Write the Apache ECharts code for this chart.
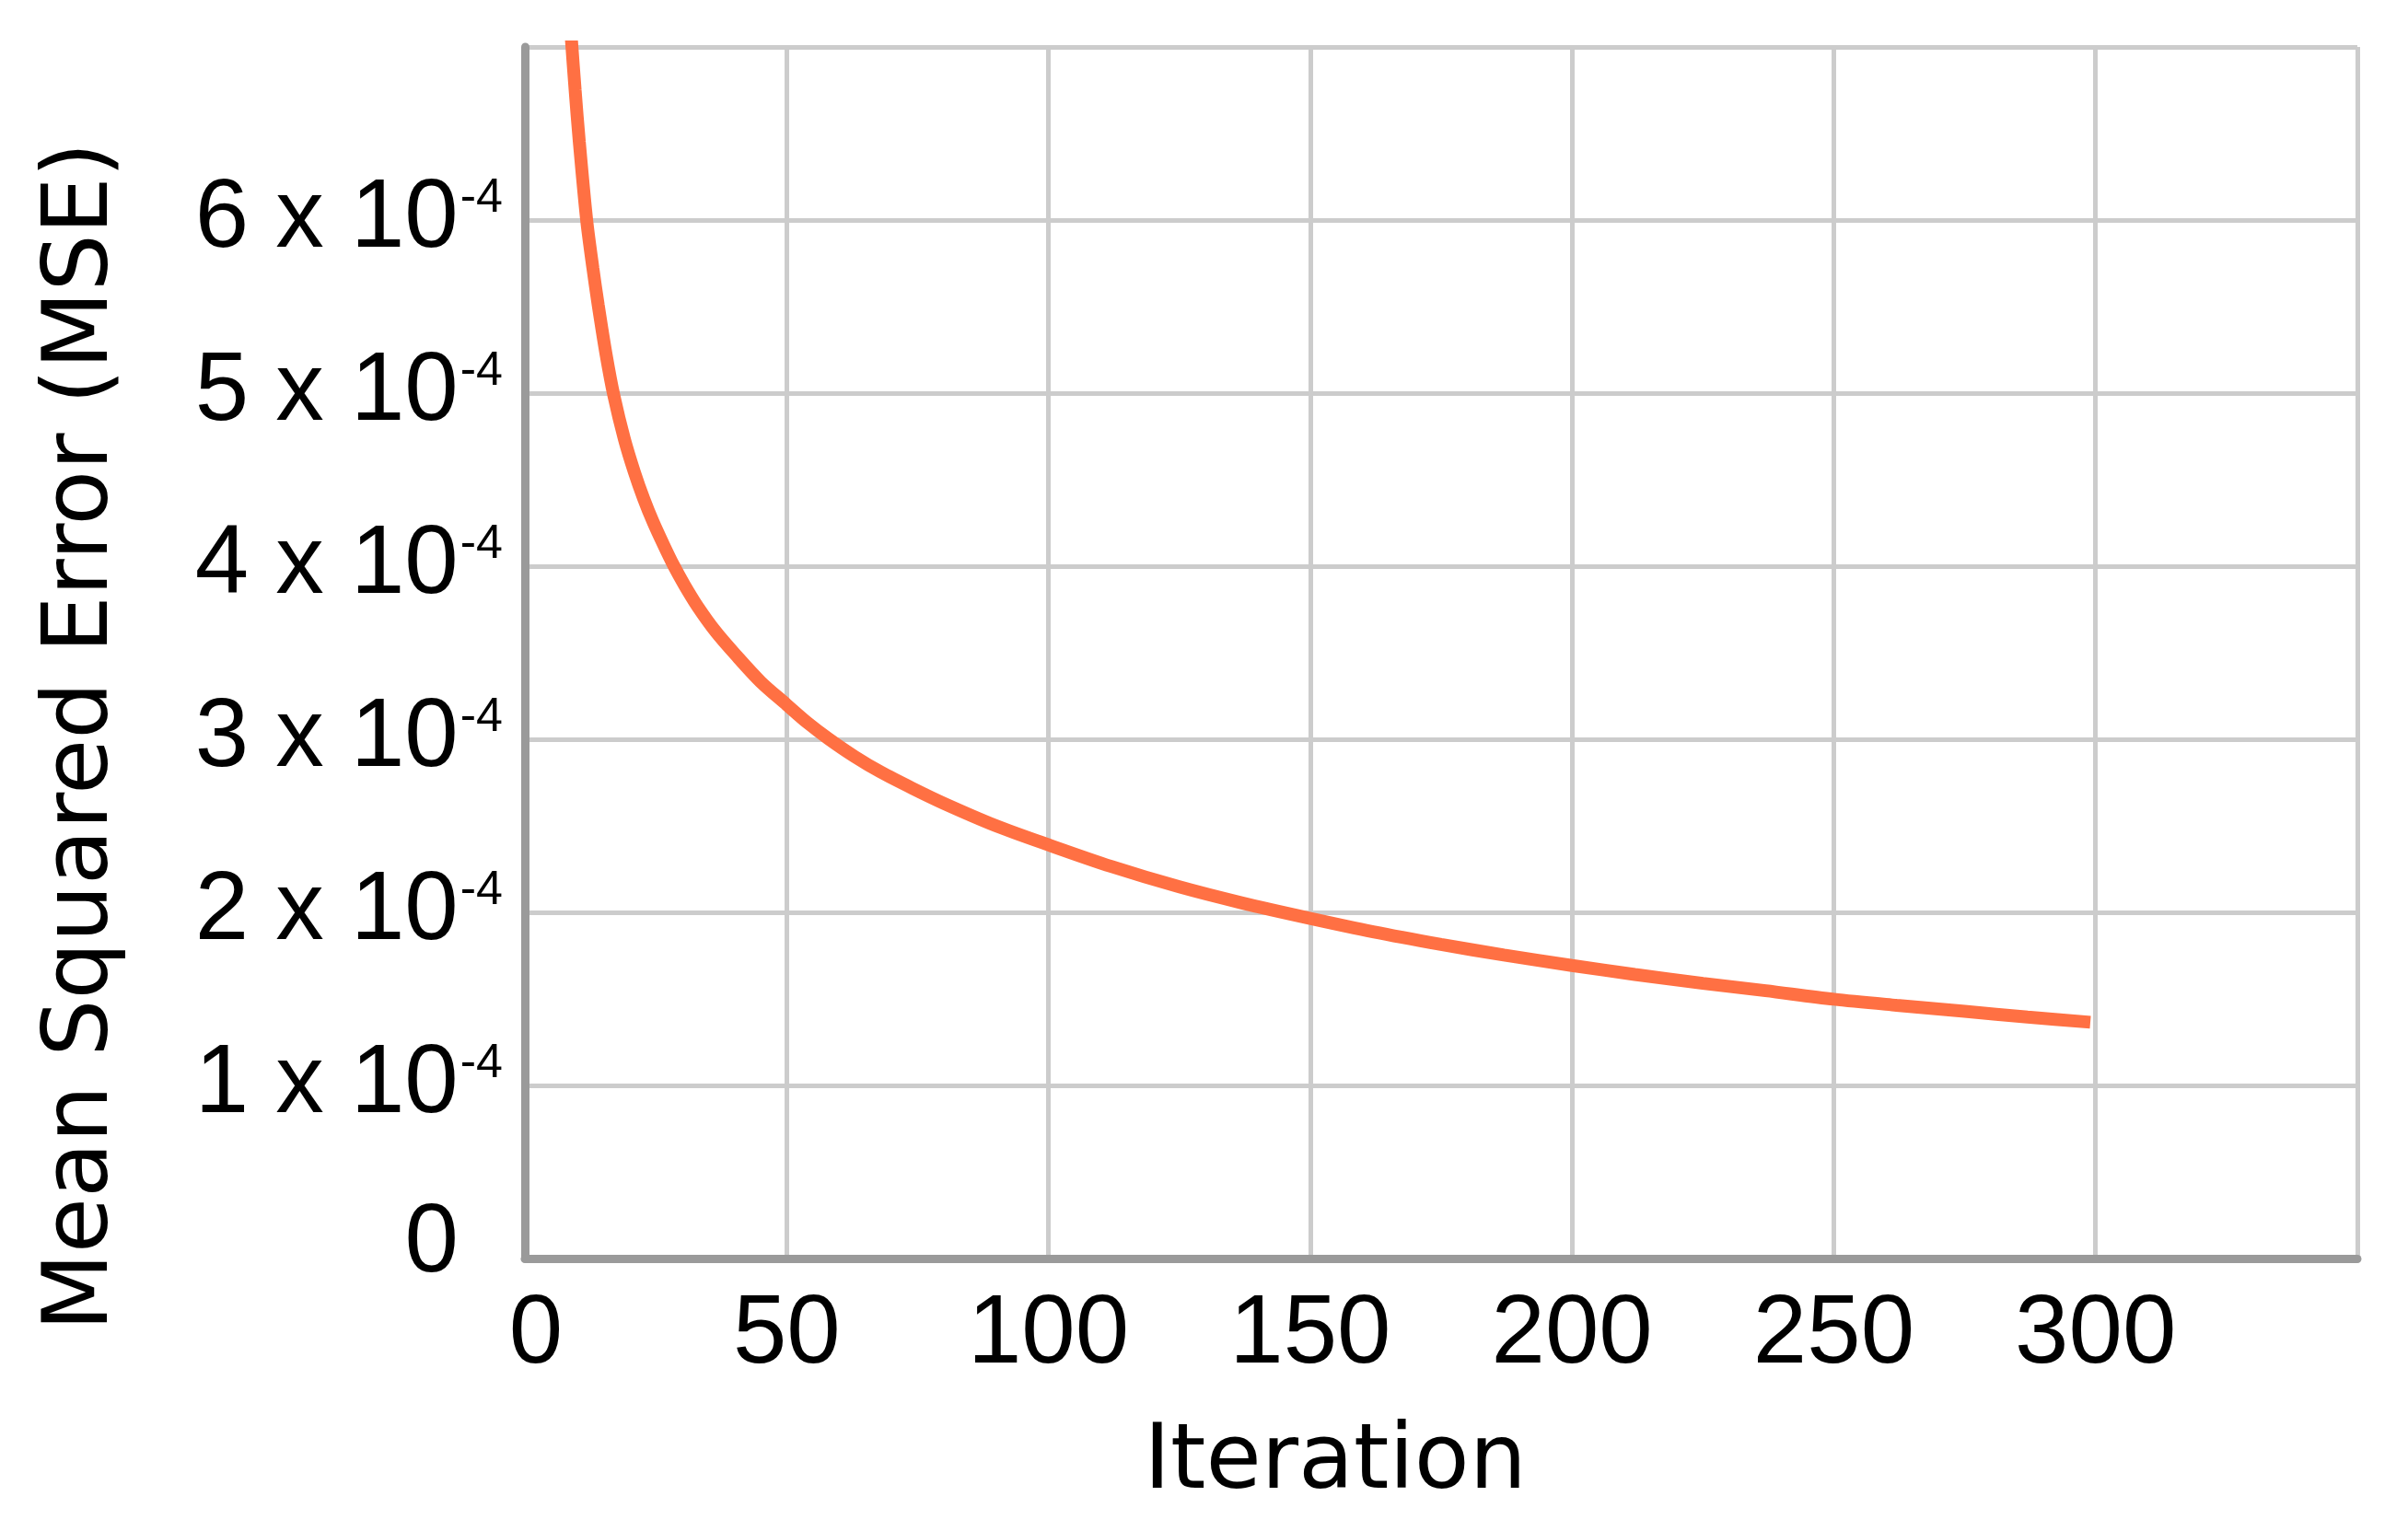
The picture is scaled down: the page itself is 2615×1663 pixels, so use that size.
<!DOCTYPE html>
<html>
<head>
<meta charset="utf-8">
<script src="https://cdn.jsdelivr.net/npm/echarts@6/dist/echarts.min.js"></script>
<style>
  html, body { margin: 0; padding: 0; background: #ffffff; }
  #chart { width: 2615px; height: 1663px; }
</style>
</head>
<body>
<div id="chart"></div>
<script>
// ---- data ----
const iterations = [8.8, 9.6, 10.4, 11.8, 13, 14, 15.5, 17, 19, 20.9, 22.7, 24.5, 26.5, 28.4, 30.5, 33, 36.5, 40.2, 45, 50, 54, 58, 63, 68, 74, 80, 90, 100, 112, 125, 137, 150, 162, 175, 187, 200, 212, 225, 237, 250, 262, 275, 287, 299];
const mseValues = [7.08e-4, 6.75e-4, 6.45e-4, 6.0e-4, 5.72e-4, 5.51e-4, 5.225e-4, 4.985e-4, 4.735e-4, 4.545e-4, 4.39e-4, 4.255e-4, 4.123e-4, 4.005e-4, 3.89e-4, 3.767e-4, 3.62e-4, 3.49e-4, 3.333e-4, 3.2e-4, 3.095e-4, 3.003e-4, 2.9e-4, 2.81e-4, 2.717e-4, 2.63e-4, 2.5e-4, 2.39e-4, 2.265e-4, 2.147e-4, 2.054e-4, 1.965e-4, 1.888e-4, 1.815e-4, 1.753e-4, 1.693e-4, 1.641e-4, 1.59e-4, 1.547e-4, 1.498e-4, 1.463e-4, 1.428e-4, 1.395e-4, 1.365e-4];
const xTickLabels = [0, 50, 100, 150, 200, 250, 300];
const yTickMantissas = [0, 1, 2, 3, 4, 5, 6];
const yTickExponent = '-4';
const xAxisName = 'Iteration';
const yAxisName = 'Mean Squared Error (MSE)';

const seriesData = iterations.map((it, i) => [it, mseValues[i]]);

const chart = echarts.init(document.getElementById('chart'), null, { renderer: 'canvas' });

const labelFont = '"Liberation Sans", Arial, sans-serif';
const nameFont = '"DejaVu Sans", Verdana, sans-serif';

const option = {
  backgroundColor: '#ffffff',
  animation: false,
  grid: { left: 570, right: 55, top: 51, bottom: 296, containLabel: false },
  xAxis: {
    type: 'value',
    min: 0, max: 350, interval: 50,
    name: xAxisName,
    nameLocation: 'middle',
    nameGap: 175,
    nameTextStyle: { fontFamily: nameFont, fontSize: 98, color: '#000', padding: [0, 230, 0, 0] },
    axisLine: { show: true, lineStyle: { color: '#9a9a9a', width: 9 } },
    axisTick: { show: false },
    splitLine: { show: true, lineStyle: { color: '#cccccc', width: 5 } },
    axisLabel: {
      margin: 32,
      formatter: function (v) {
        const n = Math.round(v);
        if (xTickLabels.indexOf(n) < 0) return '';
        if (n === 0) return '{z|0}';
        return '{a|' + n + '}';
      },
      rich: {
        a: { fontFamily: labelFont, fontSize: 105, color: '#000' },
        z: { fontFamily: labelFont, fontSize: 105, color: '#000', padding: [0, 0, 0, 24] }
      }
    }
  },
  yAxis: {
    type: 'value',
    min: 0, max: 7e-4, interval: 1e-4,
    name: yAxisName,
    nameLocation: 'middle',
    nameGap: 430,
    nameRotate: 90,
    nameTextStyle: { fontFamily: nameFont, fontSize: 98, color: '#000', padding: [0, 182, 0, 0] },
    axisLine: { show: true, lineStyle: { color: '#9a9a9a', width: 9 } },
    axisTick: { show: false },
    splitLine: { show: true, lineStyle: { color: '#cccccc', width: 5 } },
    axisLabel: {
      margin: 24,
      formatter: function (v) {
        const n = Math.round(v * 1e4);
        if (yTickMantissas.indexOf(n) < 0) return '';
        if (n === 0) return '{z|0}';
        return '{a|' + n + ' x 10}{b|' + yTickExponent + '}';
      },
      rich: {
        a: { fontFamily: labelFont, fontSize: 105, color: '#000', lineHeight: 110 },
        b: { fontFamily: labelFont, fontSize: 52, color: '#000', lineHeight: 52, verticalAlign: 'top', padding: [6, 0, 0, 2] },
        z: { fontFamily: labelFont, fontSize: 105, color: '#000', lineHeight: 110, padding: [0, 48, 30, 0] }
      }
    }
  },
  series: [{
    type: 'line',
    data: seriesData,
    showSymbol: false,
    smooth: 0.3,
    clip: true,
    lineStyle: { color: '#ff7043', width: 14 },
    itemStyle: { color: '#ff7043' }
  }]
};

chart.setOption(option);
</script>
</body>
</html>
